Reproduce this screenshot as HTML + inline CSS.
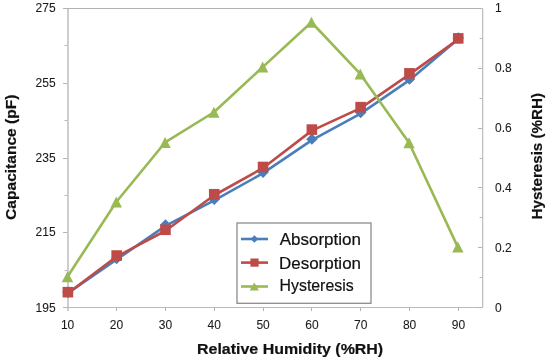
<!DOCTYPE html><html><head><meta charset="utf-8"><style>html,body{margin:0;padding:0;background:#fff;width:550px;height:362px;overflow:hidden}svg{display:block}text{font-family:"Liberation Sans",Arial,sans-serif;fill:#111;stroke:#111;stroke-width:0.2px}.t{fill:#1a1a1a;stroke:#1a1a1a;stroke-width:0.08px}</style></head><body>
<svg width="550" height="362" viewBox="0 0 550 362">
<rect width="550" height="362" fill="#fff"/>
<rect x="67" y="8" width="2" height="303" fill="#CDCDCD"/>
<rect x="63" y="8" width="420" height="1" fill="#B3B3B3"/>
<rect x="63" y="307" width="420" height="1" fill="#BBBBBB"/>
<rect x="482" y="8" width="1" height="300" fill="#C0C0C0"/>
<rect x="483" y="9" width="0.3" height="298" fill="#C0C0C0"/>
<rect x="63" y="8" width="4" height="1" fill="#B3B3B3"/>
<rect x="64.6" y="45" width="2.4" height="1" fill="#B3B3B3"/>
<rect x="63" y="83" width="4" height="1" fill="#B3B3B3"/>
<rect x="64.6" y="120" width="2.4" height="1" fill="#B3B3B3"/>
<rect x="63" y="158" width="4" height="1" fill="#B3B3B3"/>
<rect x="64.6" y="195" width="2.4" height="1" fill="#B3B3B3"/>
<rect x="63" y="232" width="4" height="1" fill="#B3B3B3"/>
<rect x="64.6" y="270" width="2.4" height="1" fill="#B3B3B3"/>
<rect x="63" y="307" width="4" height="1" fill="#B3B3B3"/>
<rect x="478" y="8" width="4" height="1" fill="#B3B3B3"/>
<rect x="479.6" y="38" width="2.4" height="1" fill="#B3B3B3"/>
<rect x="478" y="68" width="4" height="1" fill="#B3B3B3"/>
<rect x="479.6" y="98" width="2.4" height="1" fill="#B3B3B3"/>
<rect x="478" y="128" width="4" height="1" fill="#B3B3B3"/>
<rect x="479.6" y="158" width="2.4" height="1" fill="#B3B3B3"/>
<rect x="478" y="187" width="4" height="1" fill="#B3B3B3"/>
<rect x="479.6" y="217" width="2.4" height="1" fill="#B3B3B3"/>
<rect x="478" y="247" width="4" height="1" fill="#B3B3B3"/>
<rect x="479.6" y="277" width="2.4" height="1" fill="#B3B3B3"/>
<rect x="478" y="307" width="4" height="1" fill="#B3B3B3"/>
<rect x="116" y="308" width="1" height="3" fill="#B3B3B3"/>
<rect x="165" y="308" width="1" height="3" fill="#B3B3B3"/>
<rect x="214" y="308" width="1" height="3" fill="#B3B3B3"/>
<rect x="263" y="308" width="1" height="3" fill="#B3B3B3"/>
<rect x="311" y="308" width="1" height="3" fill="#B3B3B3"/>
<rect x="360" y="308" width="1" height="3" fill="#B3B3B3"/>
<rect x="409" y="308" width="1" height="3" fill="#B3B3B3"/>
<rect x="458" y="308" width="1" height="3" fill="#B3B3B3"/>
<text x="55.6" y="11.9" font-size="12" class="t" text-anchor="end">275</text>
<text x="55.6" y="87.3" font-size="12" class="t" text-anchor="end">255</text>
<text x="55.6" y="161.8" font-size="12" class="t" text-anchor="end">235</text>
<text x="55.6" y="236.2" font-size="12" class="t" text-anchor="end">215</text>
<text x="55.6" y="311.6" font-size="12" class="t" text-anchor="end">195</text>
<text x="495" y="11.9" font-size="12" class="t">1</text>
<text x="495" y="71.9" font-size="12" class="t">0.8</text>
<text x="495" y="131.8" font-size="12" class="t">0.6</text>
<text x="495" y="191.7" font-size="12" class="t">0.4</text>
<text x="495" y="251.7" font-size="12" class="t">0.2</text>
<text x="495" y="311.6" font-size="12" class="t">0</text>
<text x="67.6" y="328.55" font-size="12" class="t" text-anchor="middle">10</text>
<text x="116.5" y="328.55" font-size="12" class="t" text-anchor="middle">20</text>
<text x="165.4" y="328.55" font-size="12" class="t" text-anchor="middle">30</text>
<text x="214.2" y="328.55" font-size="12" class="t" text-anchor="middle">40</text>
<text x="263.1" y="328.55" font-size="12" class="t" text-anchor="middle">50</text>
<text x="311.9" y="328.55" font-size="12" class="t" text-anchor="middle">60</text>
<text x="360.8" y="328.55" font-size="12" class="t" text-anchor="middle">70</text>
<text x="409.6" y="328.55" font-size="12" class="t" text-anchor="middle">80</text>
<text x="458.5" y="328.55" font-size="12" class="t" text-anchor="middle">90</text>
<text x="197.0" y="353.5" font-size="15.5" font-weight="bold" textLength="186.2" lengthAdjust="spacingAndGlyphs">Relative Humidity (%RH)</text>
<text transform="translate(16.4,219.9) rotate(-90)" font-size="15.5" font-weight="bold" textLength="125.3" lengthAdjust="spacingAndGlyphs">Capacitance (pF)</text>
<text transform="translate(542.3,219.4) rotate(-90)" font-size="15.5" font-weight="bold" textLength="126.4" lengthAdjust="spacingAndGlyphs">Hysteresis (%RH)</text>
<polyline points="67.88,293.18 116.67,259.54 165.47,225.90 214.26,200.30 263.06,173.20 311.86,140.13 360.65,113.59 409.44,80.14 458.24,39.03" fill="none" stroke="#4A7EBB" stroke-width="2.6" stroke-linejoin="round" stroke-linecap="round"/>
<polygon points="67.88,286.48 73.58,292.18 67.88,297.88 62.18,292.18" fill="#4A7EBB"/>
<polygon points="116.67,252.84 122.38,258.54 116.67,264.24 110.97,258.54" fill="#4A7EBB"/>
<polygon points="165.47,219.20 171.17,224.90 165.47,230.60 159.77,224.90" fill="#4A7EBB"/>
<polygon points="214.26,193.60 219.96,199.30 214.26,205.00 208.56,199.30" fill="#4A7EBB"/>
<polygon points="263.06,166.50 268.76,172.20 263.06,177.90 257.36,172.20" fill="#4A7EBB"/>
<polygon points="311.86,133.43 317.56,139.13 311.86,144.83 306.16,139.13" fill="#4A7EBB"/>
<polygon points="360.65,106.89 366.35,112.59 360.65,118.29 354.95,112.59" fill="#4A7EBB"/>
<polygon points="409.44,73.44 415.14,79.14 409.44,84.84 403.75,79.14" fill="#4A7EBB"/>
<polygon points="458.24,32.33 463.94,38.03 458.24,43.73 452.54,38.03" fill="#4A7EBB"/>
<polyline points="67.88,293.18 116.67,256.55 165.47,230.76 214.26,195.25 263.06,167.97 311.86,130.60 360.65,108.17 409.44,74.35 458.24,39.40" fill="none" stroke="#BE4B48" stroke-width="2.6" stroke-linejoin="round" stroke-linecap="round"/>
<rect x="62.58" y="286.88" width="10.60" height="10.60" fill="#BE4B48"/>
<rect x="111.38" y="250.25" width="10.60" height="10.60" fill="#BE4B48"/>
<rect x="160.17" y="224.46" width="10.60" height="10.60" fill="#BE4B48"/>
<rect x="208.96" y="188.95" width="10.60" height="10.60" fill="#BE4B48"/>
<rect x="257.76" y="161.67" width="10.60" height="10.60" fill="#BE4B48"/>
<rect x="306.56" y="124.30" width="10.60" height="10.60" fill="#BE4B48"/>
<rect x="355.35" y="101.87" width="10.60" height="10.60" fill="#BE4B48"/>
<rect x="404.14" y="68.05" width="10.60" height="10.60" fill="#BE4B48"/>
<rect x="452.94" y="33.10" width="10.60" height="10.60" fill="#BE4B48"/>
<polyline points="67.48,276.70 116.27,201.95 165.07,142.45 213.86,112.25 262.66,67.10 311.46,22.25 360.25,73.98 409.05,142.75 457.84,247.10" fill="none" stroke="#98B954" stroke-width="2.6" stroke-linejoin="round" stroke-linecap="round"/>
<polygon points="67.48,271.20 73.18,282.20 61.78,282.20" fill="#98B954"/>
<polygon points="116.27,196.45 121.97,207.45 110.57,207.45" fill="#98B954"/>
<polygon points="165.07,136.95 170.77,147.95 159.37,147.95" fill="#98B954"/>
<polygon points="213.86,106.75 219.56,117.75 208.16,117.75" fill="#98B954"/>
<polygon points="262.66,61.60 268.36,72.60 256.96,72.60" fill="#98B954"/>
<polygon points="311.46,16.75 317.16,27.75 305.76,27.75" fill="#98B954"/>
<polygon points="360.25,68.48 365.95,79.48 354.55,79.48" fill="#98B954"/>
<polygon points="409.05,137.25 414.75,148.25 403.35,148.25" fill="#98B954"/>
<polygon points="457.84,241.60 463.54,252.60 452.14,252.60" fill="#98B954"/>
<rect x="237" y="223" width="134" height="80.3" fill="#fff" stroke="#8C8C8C" stroke-width="1.3"/>
<line x1="241" y1="239" x2="268" y2="239" stroke="#4A7EBB" stroke-width="2.6"/>
<polygon points="254.40,235.20 258.20,239.00 254.40,242.80 250.60,239.00" fill="#4A7EBB"/>
<text x="279.7" y="244.8" font-size="16" textLength="81.2" lengthAdjust="spacingAndGlyphs">Absorption</text>
<line x1="241" y1="262.6" x2="268" y2="262.6" stroke="#BE4B48" stroke-width="2.6"/>
<rect x="250.40" y="258.50" width="8.20" height="8.20" fill="#BE4B48"/>
<text x="279.0" y="268.8" font-size="16" textLength="82.0" lengthAdjust="spacingAndGlyphs">Desorption</text>
<line x1="241" y1="286.5" x2="268" y2="286.5" stroke="#98B954" stroke-width="2.6"/>
<polygon points="254.30,282.40 258.90,290.60 249.70,290.60" fill="#98B954"/>
<text x="279.6" y="291.4" font-size="16" textLength="74.0" lengthAdjust="spacingAndGlyphs">Hysteresis</text>
</svg></body></html>
